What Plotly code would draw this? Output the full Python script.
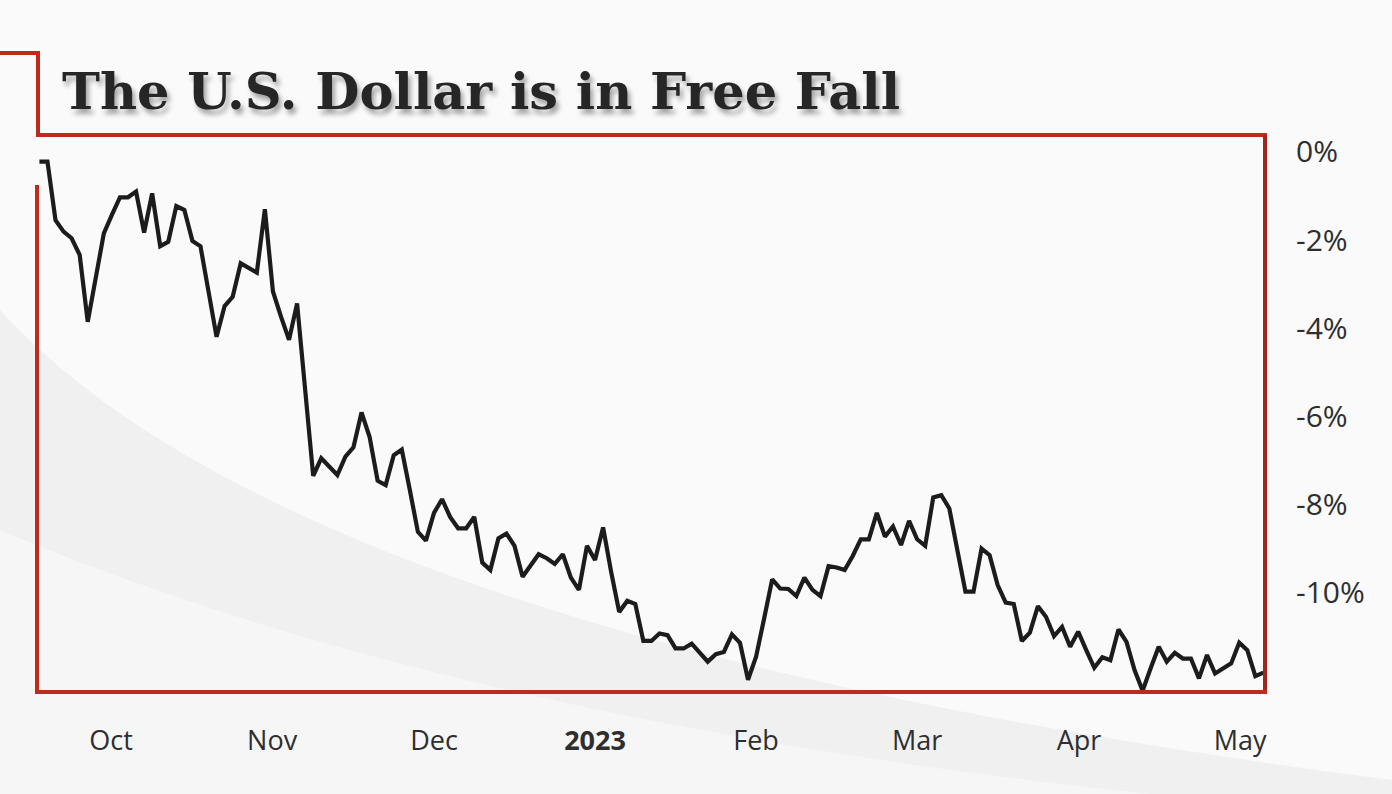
import plotly.graph_objects as go

# ---- data (percent change of the U.S. dollar index, trading days) ----
usd_change = [
    -0.22, -0.22, -1.55, -1.81, -1.96, -2.34, -3.86, -2.85, -1.85, -1.43,
    -1.03, -1.03, -0.90, -1.83, -0.94, -2.14, -2.04, -1.23, -1.32, -2.02,
    -2.14, -3.17, -4.20, -3.50, -3.29, -2.53, -2.63, -2.74, -1.30, -3.17,
    -3.74, -4.27, -3.44, -5.40, -7.36, -6.96, -7.15, -7.34, -6.92, -6.71,
    -5.92, -6.47, -7.47, -7.57, -6.89, -6.76, -7.68, -8.63, -8.83, -8.20,
    -7.89, -8.29, -8.55, -8.55, -8.29, -9.33, -9.50, -8.78, -8.67, -8.95,
    -9.65, -9.41, -9.14, -9.23, -9.36, -9.14, -9.67, -9.95, -8.95, -9.27,
    -8.53, -9.54, -10.45, -10.20, -10.27, -11.11, -11.11, -10.94, -10.98, -11.28,
    -11.28, -11.17, -11.38, -11.58, -11.41, -11.36, -10.96, -11.15, -11.99, -11.47,
    -10.60, -9.71, -9.92, -9.93, -10.09, -9.67, -9.95, -10.09, -9.41, -9.44,
    -9.50, -9.18, -8.80, -8.80, -8.20, -8.74, -8.51, -8.93, -8.38, -8.80,
    -8.95, -7.85, -7.80, -8.10, -9.05, -9.99, -9.99, -9.01, -9.16, -9.84,
    -10.24, -10.27, -11.11, -10.92, -10.32, -10.56, -11.00, -10.79, -11.24, -10.90,
    -11.32, -11.72, -11.48, -11.55, -10.85, -11.13, -11.77, -12.24, -11.73, -11.24,
    -11.58, -11.38, -11.51, -11.51, -11.96, -11.43, -11.85, -11.73, -11.62, -11.15,
    -11.32, -11.91, -11.83,
]
day_index = list(range(len(usd_change)))

month_labels = ["Oct", "Nov", "Dec", "<b>2023</b>", "Feb", "Mar", "Apr", "May"]
month_tick_pos = [8.9, 28.9, 49.0, 69.0, 89.0, 109.0, 129.1, 149.1]

y_tick_vals = [0, -2, -4, -6, -8, -10]
y_tick_text = ["0%", "-2%", "-4%", "-6%", "-8%", "-10%"]

title_text = "The U.S. Dollar is in Free Fall"

# ---- layout geometry (pixels) ----
W, H = 1392, 794
L, R, T, B = 37, 1265, 135, 692


def px(x):
    return (x - L) / (R - L)


def py(y):
    return (B - y) / (B - T)


def path(points, close=False):
    s = "M " + " L ".join(f"{px(x):.5f},{py(y):.5f}" for x, y in points)
    return s + (" Z" if close else "")


RED = "#bf2a1e"

fig = go.Figure()
fig.add_trace(go.Scatter(
    x=day_index, y=usd_change, mode="lines",
    line=dict(color="#1c1c1c", width=4.2),
    hoverinfo="skip", showlegend=False,
))

shapes = [
    # soft background swooshes
    dict(type="path", xref="paper", yref="paper", layer="below",
         path=f"M {px(0):.5f},{py(310):.5f} Q {px(300):.5f},{py(640):.5f} {px(1392):.5f},{py(780):.5f} "
              f"L {px(1392):.5f},{py(794):.5f} L {px(0):.5f},{py(794):.5f} Z",
         fillcolor="#f0f0f0", line=dict(width=0)),
    dict(type="path", xref="paper", yref="paper", layer="below",
         path=f"M {px(0):.5f},{py(530):.5f} Q {px(450):.5f},{py(720):.5f} {px(1150):.5f},{py(794):.5f} "
              f"L {px(0):.5f},{py(794):.5f} Z",
         fillcolor="#f6f6f6", line=dict(width=0)),
    # red bracket around title + frame
    dict(type="path", xref="paper", yref="paper",
         path=path([(0, 53), (38, 53), (38, 135), (1267, 135)]),
         line=dict(color=RED, width=4)),
    dict(type="path", xref="paper", yref="paper",
         path=path([(1265, 135), (1265, 692)]),
         line=dict(color="#a3271d", width=4)),
    dict(type="path", xref="paper", yref="paper",
         path=path([(1267, 692), (37, 692), (37, 185)]),
         line=dict(color=RED, width=4)),
]

fig.update_layout(
    width=W, height=H,
    margin=dict(l=L, r=W - R, t=T, b=H - B, pad=0),
    paper_bgcolor="#fafafa",
    plot_bgcolor="rgba(0,0,0,0)",
    shapes=shapes,
    showlegend=False,
    xaxis=dict(
        range=[-0.3, 152.2], showgrid=False, zeroline=False, showline=False,
        tickmode="array", tickvals=month_tick_pos, ticktext=month_labels,
        ticks="", ticklabelstandoff=30,
        tickfont=dict(family="Open Sans", size=27, color="#2e2e2e"),
        fixedrange=True,
    ),
    yaxis=dict(
        range=[-12.27, 0.386], side="right", showgrid=False, zeroline=False,
        showline=False, tickmode="array", tickvals=y_tick_vals, ticktext=y_tick_text,
        ticks="", ticklabelstandoff=30,
        tickfont=dict(family="Open Sans", size=30, color="#2e2e2e"),
        fixedrange=True,
    ),
    annotations=[dict(
        text=title_text, xref="paper", yref="paper",
        x=px(60), y=py(91), xanchor="left", yanchor="middle", showarrow=False,
        font=dict(family="DejaVu Serif", size=51, color="#262626", weight="bold",
                  shadow="3px 5px 5px rgba(0,0,0,0.35)"),
    )],
)

fig.write_html(
    "out.html",
    config={"displayModeBar": False},
    post_script="document.body.style.margin='0px';document.body.style.overflow='hidden';",
)
